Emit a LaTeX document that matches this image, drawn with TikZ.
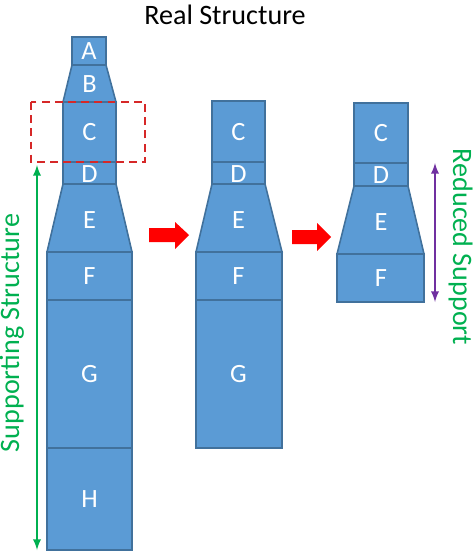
\documentclass[tikz,border=0pt]{standalone}
\usepackage{fontspec}
\setmainfont{Carlito}
\usetikzlibrary{arrows}
\definecolor{blkfill}{RGB}{91,155,213}
\definecolor{blkline}{RGB}{65,113,156}
\definecolor{supgreen}{RGB}{0,176,80}
\definecolor{redpurple}{RGB}{112,48,160}
\definecolor{boxred}{RGB}{214,40,40}

\begin{document}
\begin{tikzpicture}[x=0.02cm,y=-0.02cm]
% Styles ---
\tikzstyle{blk} = [fill = blkfill, draw = blkline, line width = 0.9pt] % Blocks
\tikzstyle{lbl} = [text = white, inner sep = 0pt, font = \fontsize{15}{18}\selectfont] % Block letters
\tikzstyle{captxt} = [inner sep = 0pt, font = \fontsize{16}{19}\selectfont] % Captions
\tikzstyle{ext} = [latex-latex, line width = 1.1pt] % Extent arrows
\tikzstyle{push} = [fill = red] % Block arrows
\useasboundingbox (0,0) rectangle (474,554);
% Real structure ---
\draw[blk] (72,37) rectangle (106,65);
\draw[blk] (72,65) -- (106,65) -- (116,102) -- (63,102) -- cycle;
\draw[blk] (63,102) rectangle (116,162);
\draw[blk] (63,162) rectangle (116,184);
\draw[blk] (63,184) -- (116,184) -- (132,252) -- (47,252) -- cycle;
\draw[blk] (47,252) rectangle (132,300);
\draw[blk] (47,300) rectangle (132,448);
\draw[blk] (47,448) rectangle (132,550);
\node at (89,51) [lbl] (a1) {A};
\node at (89.5,84) [lbl] (b1) {B};
\node at (89.5,132) [lbl] (c1) {C};
\node at (89.5,174) [lbl] (d1) {D};
\node at (89.5,220) [lbl] (e1) {E};
\node at (89.5,276) [lbl] (f1) {F};
\node at (89.5,374) [lbl] (g1) {G};
\node at (89.5,499) [lbl] (h1) {H};
\draw[boxred, line width = 1.2pt, dash pattern = on 4.5pt off 3pt] (31,102) rectangle (145,162);
% Middle structure ---
\draw[blk] (212,101) rectangle (265,162);
\draw[blk] (212,162) rectangle (265,184);
\draw[blk] (212,184) -- (265,184) -- (282,252) -- (196,252) -- cycle;
\draw[blk] (196,252) rectangle (282,300);
\draw[blk] (196,300) rectangle (282,448);
\node at (238.5,132) [lbl] (c2) {C};
\node at (238.5,174) [lbl] (d2) {D};
\node at (238.5,220) [lbl] (e2) {E};
\node at (238.5,276) [lbl] (f2) {F};
\node at (238.5,374) [lbl] (g2) {G};
% Reduced structure ---
\draw[blk] (354,103) rectangle (408,163);
\draw[blk] (354,163) rectangle (408,186);
\draw[blk] (354,186) -- (408,186) -- (424,254) -- (337,254) -- cycle;
\draw[blk] (337,254) rectangle (424,302);
\node at (381,133) [lbl] (c3) {C};
\node at (381,175) [lbl] (d3) {D};
\node at (381,222) [lbl] (e3) {E};
\node at (381,278) [lbl] (f3) {F};
% Red arrows
\fill[push] (149,228) -- (175,228) -- (175,222) -- (189,235) -- (175,249) -- (175,242) -- (149,242) -- cycle;
\fill[push] (292,230) -- (317,230) -- (317,223) -- (331,237) -- (317,251) -- (317,244) -- (292,244) -- cycle;
% Captions and extents
\node at (225,25) [captxt, anchor = base] (real) {Real Structure};
\coordinate (s1) at (37,165);
\coordinate (s2) at (37,550);
\draw[ext, supgreen] (s1) -- (s2);
\node at (19,333) [captxt, rotate = 90, anchor = base, text = supgreen] (sup) {Supporting Structure};
\coordinate (r1) at (435,163);
\coordinate (r2) at (435,302);
\draw[ext, redpurple] (r1) -- (r2);
\node at (453,247) [captxt, rotate = -90, anchor = base, text = supgreen] (red) {Reduced Support};
\end{tikzpicture}
\end{document}
